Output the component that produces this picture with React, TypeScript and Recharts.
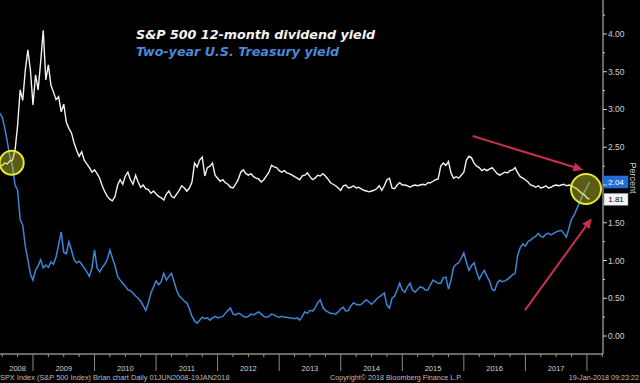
import React from "react";
import { LineChart, Line, XAxis, YAxis, ReferenceDot, ReferenceLine } from "recharts";

// Semi-monthly observations, 1 Jun 2008 .. 15 Jan 2018 (232 points)
const START_YEAR = 2008;
const START_MONTH = 6; // June
const dividendYield: number[] = [
  // 2008 Jun-Dec
  2.22, 2.25, 2.26, 2.29, 2.28, 2.32, 2.33, 2.46, 2.79, 3.26, 3.12, 3.52, 3.79, 3.52,
  // 2009
  3.06, 3.46, 3.26, 3.63, 4.05, 3.39, 3.59, 3.32, 3.23, 3.13, 3.17, 2.97, 3.07, 2.83, 2.75, 2.69, 2.56, 2.46, 2.38, 2.44, 2.33, 2.28, 2.23, 2.17,
  // 2010
  2.20, 2.15, 2.09, 1.99, 1.91, 1.85, 1.81, 1.79, 1.85, 2.00, 2.07, 2.01, 2.12, 2.17, 2.07, 2.01, 2.13, 2.04, 1.97, 2.00, 1.95, 1.94, 1.89, 1.92,
  // 2011
  1.88, 1.85, 1.83, 1.80, 1.88, 1.92, 1.85, 1.83, 1.88, 1.93, 1.99, 1.96, 1.92, 1.96, 2.04, 2.29, 2.24, 2.33, 2.37, 2.12, 2.23, 2.25, 2.29, 2.13,
  // 2012
  2.09, 2.05, 2.07, 2.03, 2.01, 1.97, 1.96, 2.01, 2.07, 2.17, 2.20, 2.15, 2.13, 2.15, 2.11, 2.09, 2.08, 2.04, 2.07, 2.12, 2.17, 2.26, 2.24, 2.23,
  // 2013
  2.19, 2.17, 2.19, 2.16, 2.15, 2.13, 2.11, 2.09, 2.07, 2.12, 2.13, 2.16, 2.11, 2.07, 2.09, 2.13, 2.12, 2.15, 2.12, 2.08, 2.03, 2.01, 1.99, 1.96,
  // 2014
  1.93, 1.99, 2.00, 1.96, 1.97, 1.99, 1.96, 1.97, 1.95, 1.93, 1.92, 1.91, 1.92, 1.93, 1.95, 1.99, 1.93, 1.99, 2.07, 2.09, 1.96, 1.95, 2.00, 2.03,
  // 2015
  2.00, 2.00, 1.99, 1.97, 1.99, 2.00, 1.99, 2.00, 2.01, 2.00, 2.03, 2.03, 2.05, 2.07, 2.08, 2.25, 2.29, 2.26, 2.31, 2.16, 2.09, 2.11, 2.09, 2.13,
  // 2016
  2.17, 2.33, 2.38, 2.36, 2.29, 2.25, 2.23, 2.19, 2.21, 2.19, 2.21, 2.23, 2.19, 2.15, 2.13, 2.15, 2.17, 2.16, 2.19, 2.20, 2.23, 2.16, 2.11, 2.09,
  // 2017
  2.07, 2.04, 2.00, 1.99, 1.97, 1.99, 1.96, 1.97, 1.99, 1.96, 1.97, 1.99, 2.00, 1.99, 2.00, 2.01, 1.99, 2.00, 1.99, 1.97, 1.95, 1.92, 1.89, 1.87,
  // 2018 Jan
  1.83, 1.81,
];
const treasury2y: number[] = [
  // 2008 Jun-Dec
  2.79, 2.95, 2.90, 2.75, 2.57, 2.37, 2.25, 2.00, 1.93, 1.54, 1.47, 1.19, 1.01, 0.82,
  // 2009
  0.74, 0.87, 0.93, 1.01, 0.90, 0.94, 0.91, 0.98, 0.95, 1.05, 1.21, 1.38, 1.11, 1.09, 1.25, 1.14, 1.01, 0.97, 0.99, 0.95, 0.90, 0.85, 0.79, 0.90,
  // 2010
  1.14, 0.90, 0.85, 0.91, 0.95, 1.02, 1.14, 1.03, 0.93, 0.79, 0.74, 0.70, 0.66, 0.61, 0.60, 0.57, 0.53, 0.50, 0.46, 0.40, 0.34, 0.44, 0.57, 0.65,
  // 2011
  0.73, 0.68, 0.72, 0.83, 0.74, 0.79, 0.83, 0.72, 0.61, 0.53, 0.50, 0.46, 0.44, 0.36, 0.26, 0.20, 0.17, 0.21, 0.25, 0.23, 0.24, 0.21, 0.24, 0.26,
  // 2012
  0.24, 0.25, 0.26, 0.30, 0.34, 0.37, 0.29, 0.28, 0.30, 0.29, 0.26, 0.25, 0.26, 0.29, 0.28, 0.30, 0.32, 0.29, 0.26, 0.25, 0.26, 0.29, 0.28, 0.26,
  // 2013
  0.25, 0.26, 0.25, 0.25, 0.24, 0.24, 0.23, 0.24, 0.21, 0.26, 0.32, 0.30, 0.34, 0.33, 0.37, 0.44, 0.48, 0.38, 0.34, 0.32, 0.30, 0.30, 0.29, 0.32,
  // 2014
  0.36, 0.38, 0.33, 0.34, 0.40, 0.44, 0.42, 0.41, 0.42, 0.45, 0.48, 0.45, 0.42, 0.45, 0.49, 0.52, 0.54, 0.57, 0.41, 0.37, 0.50, 0.53, 0.61, 0.70,
  // 2015
  0.61, 0.58, 0.65, 0.70, 0.61, 0.58, 0.62, 0.65, 0.64, 0.61, 0.61, 0.68, 0.74, 0.72, 0.70, 0.70, 0.77, 0.78, 0.62, 0.74, 0.91, 0.95, 0.97, 1.03,
  // 2016
  1.10, 0.98, 0.87, 0.93, 0.97, 0.85, 0.75, 0.82, 0.87, 0.79, 0.73, 0.62, 0.60, 0.70, 0.74, 0.72, 0.73, 0.75, 0.78, 0.81, 0.83, 1.07, 1.17, 1.22,
  // 2017
  1.19, 1.25, 1.27, 1.30, 1.32, 1.36, 1.32, 1.31, 1.35, 1.36, 1.34, 1.36, 1.38, 1.39, 1.40, 1.36, 1.31, 1.43, 1.55, 1.60, 1.68, 1.76, 1.84, 1.91,
  // 2018 Jan
  1.97, 2.04,
];

const yearLabels = ["2008", "2009", "2010", "2011", "2012", "2013", "2014", "2015", "2016", "2017"];
const yTicks = [0, 0.25, 0.5, 0.75, 1, 1.25, 1.5, 1.75, 2, 2.25, 2.5, 2.75, 3, 3.25, 3.5, 3.75, 4, 4.25];
const lastDividend = 1.81;
const lastTreasury = 2.04;
const titleMain = "S&P 500 12-month dividend yield";
const titleSub = "Two-year U.S. Treasury yield";
const footerLeft = "SPX Index (S&P 500 Index) Brian chart  Daily 01JUN2008-19JAN2018";
const footerMid = "Copyright\u00A9 2018 Bloomberg Finance L.P.";
const footerRight = "19-Jan-2018 09:23:22";

// time (decimal year) of each semi-monthly observation
const times = dividendYield.map((_, i) => START_YEAR + (START_MONTH - 1) / 12 + i / 24);
const chartData = times.map((t, i) => ({ t, div: dividendYield[i], tsy: treasury2y[i] }));

const X_DOMAIN: [number, number] = [2008.464, 2018.261];
const Y_DOMAIN: [number, number] = [-0.238, 4.45];
const xTicks: number[] = [];
for (let q = 2008.5; q <= 2018.25 + 1e-9; q += 0.25) xTicks.push(q);

const AXIS = "#cfcfcf";
const TXT = "#d2d2d2";
const FONT = "'Liberation Sans', Arial, sans-serif";

const XTick = (props: any) => {
  const { x, y, payload } = props;
  const v: number = payload.value;
  const frac = Math.round((v - Math.floor(v)) * 4) % 4;
  const isYear = frac === 0;
  let label: string | null = null;
  const yr = Math.floor(v);
  if (yr === 2008 && frac === 3) label = yearLabels[0];
  else if (yr >= 2009 && frac === 2 && yr - 2008 < yearLabels.length) label = yearLabels[yr - 2008];
  return (
    <g>
      <line x1={x} x2={x} y1={y} y2={y + (isYear ? 17 : 3)} stroke={isYear ? "#8a8a8a" : "#9a9a9a"} strokeWidth={1} />
      {label && (
        <text x={x} y={y + 17} textAnchor="middle" fontSize={7.5} fill={TXT} fontFamily={FONT}>
          {label}
        </text>
      )}
    </g>
  );
};

const YTick = (props: any) => {
  const { x, y, payload } = props;
  const v: number = payload.value;
  const major = Math.abs(v * 2 - Math.round(v * 2)) < 1e-6;
  // labels hidden where the last-value boxes cover them
  const covered = Math.abs(v - lastTreasury) < 0.12 || Math.abs(v - lastDividend) < 0.12;
  return (
    <g>
      <line x1={x} x2={x + (major ? 4 : 2)} y1={y} y2={y} stroke={AXIS} strokeWidth={1} />
      {major && !covered && (
        <text x={x + 5} y={y + 3} fontSize={8.5} fill={TXT} fontFamily={FONT}>
          {v.toFixed(2)}
        </text>
      )}
    </g>
  );
};

const arrowShape = (props: any) => {
  const { x1, y1, x2, y2 } = props;
  if ([x1, y1, x2, y2].some((n) => typeof n !== "number" || isNaN(n))) return <g />;
  const ang = Math.atan2(y2 - y1, x2 - x1);
  const L = 10;
  const W = 4.5;
  const bx = x2 - L * Math.cos(ang);
  const by = y2 - L * Math.sin(ang);
  const px = -Math.sin(ang) * W;
  const py = Math.cos(ang) * W;
  return (
    <g>
      <line x1={x1} y1={y1} x2={bx} y2={by} stroke="#c8304e" strokeWidth={2} />
      <polygon points={`${x2},${y2} ${bx + px},${by + py} ${bx - px},${by - py}`} fill="#c8304e" />
    </g>
  );
};

const valueBox = (fill: string, textFill: string, label: string) => (props: any) => {
  const { cx, cy } = props;
  if (typeof cx !== "number" || typeof cy !== "number") return <g />;
  return (
    <g>
      <rect x={cx + 1} y={cy - 6} width={24} height={12} fill={fill} stroke={textFill === "#000" ? "#888" : fill} strokeWidth={0.5} />
      <text x={cx + 13} y={cy + 3} textAnchor="middle" fontSize={8} fill={textFill} fontFamily={FONT}>
        {label}
      </text>
    </g>
  );
};

export default function App() {
  return (
    <div style={{ position: "fixed", left: 0, top: 0, width: 640, height: 383, background: "#000", overflow: "hidden" }}>
      <div style={{ position: "absolute", left: 0, top: 0 }}>
        <LineChart width={640} height={383} data={chartData} margin={{ top: 0, right: 0, bottom: 0, left: 0 }}>
          <XAxis
            dataKey="t"
            type="number"
            domain={X_DOMAIN}
            allowDataOverflow
            ticks={xTicks}
            interval={0}
            tick={<XTick />}
            tickLine={false}
            tickSize={0}
            tickMargin={0}
            height={29}
            axisLine={{ stroke: AXIS, strokeWidth: 1 }}
          />
          <YAxis
            orientation="right"
            type="number"
            domain={Y_DOMAIN}
            allowDataOverflow
            ticks={yTicks}
            interval={0}
            tick={<YTick />}
            tickLine={false}
            tickSize={0}
            tickMargin={0}
            width={37}
            axisLine={{ stroke: AXIS, strokeWidth: 1 }}
          />
          <Line type="linear" dataKey="tsy" stroke="#3d86d6" strokeWidth={1.5} dot={false} isAnimationActive={false} />
          <Line type="linear" dataKey="div" stroke="#f2f2f2" strokeWidth={1.4} dot={false} isAnimationActive={false} />
          <ReferenceDot x={2008.654} y={2.295} r={12} fill="rgba(205,205,40,0.45)" stroke="#e4e83a" strokeWidth={2} />
          <ReferenceDot x={2017.985} y={1.947} r={15} fill="rgba(205,205,40,0.45)" stroke="#e4e83a" strokeWidth={2} />
          <ReferenceLine
            segment={[{ x: 2016.144, y: 2.649 }, { x: 2017.941, y: 2.199 }]}
            stroke="#c8304e"
            strokeWidth={2}
            shape={arrowShape}
            ifOverflow="visible"
          />
          <ReferenceLine
            segment={[{ x: 2016.994, y: 0.344 }, { x: 2018.077, y: 1.559 }]}
            stroke="#c8304e"
            strokeWidth={2}
            shape={arrowShape}
            ifOverflow="visible"
          />
          <ReferenceDot x={X_DOMAIN[1]} y={lastTreasury} r={0} shape={valueBox("#1f6fd6", "#fff", lastTreasury.toFixed(2))} ifOverflow="visible" />
          <ReferenceDot x={X_DOMAIN[1]} y={lastDividend} r={0} shape={valueBox("#f4f4f4", "#000", lastDividend.toFixed(2))} ifOverflow="visible" />
        </LineChart>
      </div>
      <svg width={640} height={383} style={{ position: "absolute", left: 0, top: 0, pointerEvents: "none" }}>
        <text x={136} y={38.5} fontSize={12.7} fontWeight="bold" fontStyle="italic" fill="#f4f4f4" fontFamily="'DejaVu Sans', sans-serif">
          {titleMain}
        </text>
        <text x={136} y={55.5} fontSize={12.7} fontWeight="bold" fontStyle="italic" fill="#4a8ad8" fontFamily="'DejaVu Sans', sans-serif">
          {titleSub}
        </text>
        <text x={630} y={178} fontSize={9} fill={TXT} fontFamily={FONT} textAnchor="middle" transform="rotate(90 630 178)">
          Percent
        </text>
        <text x={0} y={380} fontSize={7.4} fill="#bdbdbd" fontFamily={FONT}>
          {footerLeft}
        </text>
        <text x={330} y={380} fontSize={7.2} fill="#bdbdbd" fontFamily={FONT}>
          {footerMid}
        </text>
        <text x={639} y={380} fontSize={7.2} fill="#bdbdbd" fontFamily={FONT} textAnchor="end">
          {footerRight}
        </text>
      </svg>
    </div>
  );
}
